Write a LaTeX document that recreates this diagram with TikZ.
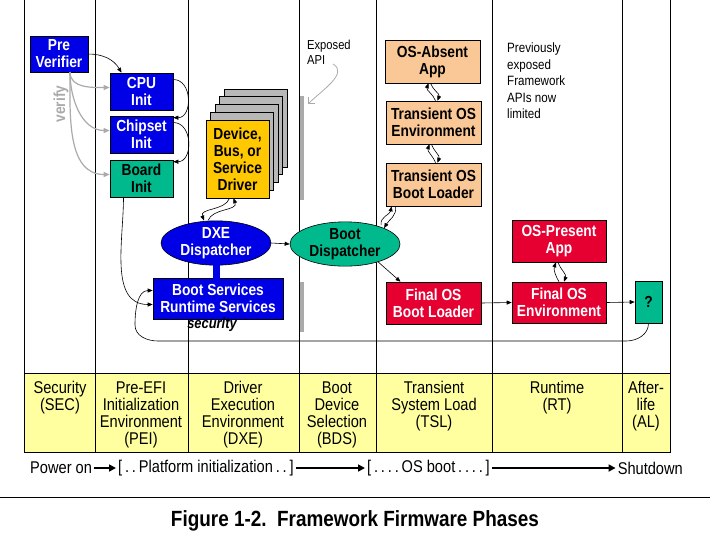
\documentclass[tikz,border=0pt]{standalone}
\usepackage{fontspec}
\setmainfont{Liberation Sans}[FakeStretch=0.86]
\usetikzlibrary{shapes.geometric,arrows.meta}
\definecolor{eblue}{RGB}{0,0,230}
\definecolor{egreen}{RGB}{0,185,140}
\definecolor{eorange}{RGB}{255,200,0}
\definecolor{epeach}{RGB}{250,200,150}
\definecolor{ered}{RGB}{230,0,50}
\definecolor{eyellow}{RGB}{255,255,160}
\definecolor{egray}{RGB}{170,170,170}
\begin{document}
\begin{tikzpicture}[x=1pt,y=-1pt,
 box/.style={draw=black,line width=0.6pt,inner sep=0pt,align=center,font=\bfseries\fontsize{16}{17}\selectfont,text=white},
 bluebox/.style={box,fill=eblue},
 greenbox/.style={box,fill=egreen,text=black},
 peachbox/.style={box,fill=epeach,text=black},
 redbox/.style={box,fill=ered},
 arr/.style={-{Triangle[length=5pt,width=4pt]},line width=0.6pt},
 garr/.style={-{Triangle[length=6pt,width=5pt]},line width=1.2pt,egray},
 phase/.style={align=center,font=\fontsize{17}{17}\selectfont,anchor=north},
 tl/.style={font=\fontsize{17}{17}\selectfont,inner sep=0pt}]
\useasboundingbox (0,0) rectangle (710,542);
% lane lines
\foreach \x in {24,95,188,299,376,492,622,670} \draw[line width=0.6pt] (\x,0) -- (\x,373);
% yellow band
\fill[eyellow] (24,373) rectangle (670,452);
\draw[line width=0.6pt] (24,373) rectangle (670,452);
\foreach \x in {95,188,299,376,492,622} \draw[line width=0.6pt] (\x,373) -- (\x,452);
\node[phase] (p1) at (60,378) {Security\\(SEC)};
\node[phase] (p2) at (141,378) {Pre-EFI\\Initialization\\Environment\\(PEI)};
\node[phase] (p3) at (243,378) {Driver\\Execution\\Environment\\(DXE)};
\node[phase] (p4) at (337,378) {Boot\\Device\\Selection\\(BDS)};
\node[phase] (p5) at (434,378) {Transient\\System Load\\(TSL)};
\node[phase] (p6) at (557,378) {Runtime\\(RT)};
\node[phase] (p7) at (646,378) {After-\\life\\(AL)};
% timeline
\node[tl,anchor=west] (pw) at (30,468) {Power on};
\node[tl,anchor=west] (pi) at (118,468) {[\,.\,.\,Platform initialization\,.\,.\,]};
\node[tl,anchor=west] (ob) at (367,468) {[\,.\,.\,.\,.\,OS boot\,.\,.\,.\,.\,]};
\node[tl,anchor=east] (sd) at (683,468) {Shutdown};
\draw[-{Triangle[length=7pt,width=7pt]},line width=1.6pt] ([xshift=2pt]pw.east) -- ([xshift=-2pt]pi.west);
\draw[-{Triangle[length=7pt,width=7pt]},line width=1.6pt] ([xshift=2pt]pi.east) -- ([xshift=-2pt]ob.west);
\draw[-{Triangle[length=7pt,width=7pt]},line width=1.6pt] ([xshift=2pt]ob.east) -- ([xshift=-2pt]sd.west);
\draw[line width=0.8pt] (0,497) -- (710,497);
\node[font=\bfseries\fontsize{22}{23}\selectfont] (cap) at (355,521) {Figure 1-2.\ \ Framework Firmware Phases};
% PEI boxes
\node[bluebox,minimum width=58pt,minimum height=36pt] (pre) at (59,54) {Pre\\Verifier};
\node[bluebox,minimum width=63pt,minimum height=37pt] (cpu) at (141.5,91.5) {CPU\\Init};
\node[bluebox,minimum width=63pt,minimum height=37pt] (chip) at (141.5,134.5) {Chipset\\Init};
\node[greenbox,minimum width=63pt,minimum height=37pt] (board) at (141.5,178.5) {Board\\Init};
\draw[arr] (pre.east) to[out=0,in=120] ([xshift=-20pt]cpu.north);
\coordinate (vf) at (70,72);
\draw[garr] (vf) to[out=-90,in=180] ([yshift=4pt]cpu.west);
\draw[garr] (vf) to[out=-90,in=180] ([yshift=4pt]chip.west);
\draw[garr] (vf) to[out=-90,in=180] ([yshift=4pt]board.west);
\node[rotate=90,text=egray,font=\bfseries\fontsize{16}{17}\selectfont] (vt) at (61,104) {verify};
\draw[arr] ([yshift=12pt]cpu.east) to[out=0,in=0,looseness=1.3] ([yshift=-2pt]chip.north east);
\draw[arr] ([yshift=12pt]chip.east) to[out=0,in=0,looseness=1.3] ([yshift=-2pt]board.north east);
% driver stack
\foreach \i in {4,3,2,1} \draw[fill=egray!80!black!60,line width=0.6pt] (206+4.5*\i,120-7.75*\i) rectangle ++(63,78);
\node[box,fill=eorange,text=black,minimum width=63pt,minimum height=78pt] (drv) at (237.5,159) {Device,\\Bus, or\\Service\\Driver};
\node[ellipse,fill=eblue,draw=black,line width=0.6pt,minimum width=110pt,minimum height=40pt,inner sep=0pt,align=center,text=white,font=\bfseries\fontsize{16}{17}\selectfont] (dxe) at (216,243) {DXE\\Dispatcher};
\node[bluebox,minimum width=130pt,minimum height=41pt] (bs) at (218,298.5) {Boot Services\\Runtime Services};
\fill[eblue] (213,262) rectangle (220,279);
\node[font=\bfseries\itshape\fontsize{15}{16}\selectfont] (sec) at (212,325) {security};
\draw[arr] ([xshift=-8pt]drv.south) to[out=-110,in=110] ([xshift=-12pt]dxe.north);
\draw[arr] ([xshift=-8pt]dxe.north) to[out=70,in=-70] ([xshift=-4pt]drv.south);
\draw[arr] ([xshift=-18pt]board.south) to[out=-90,in=180] ([yshift=-6pt]bs.west);
% gray bars
\fill[egray] (300,96) rectangle (304,200);
\fill[egray] (300,282) rectangle (304,332);
\node[anchor=north west,inner sep=0pt,align=left,font=\fontsize{13}{15}\selectfont] (api) at (307,40) {Exposed\\API};
\draw[-{Straight Barb[length=5pt]},egray,line width=0.8pt] (333,64) to[out=-30,in=45] (308,104);
% BDS
\node[ellipse,fill=egreen,draw=black,line width=0.6pt,minimum width=110pt,minimum height=40pt,inner sep=0pt,align=center,font=\bfseries\fontsize{16}{17}\selectfont] (bds) at (345,244) {Boot\\Dispatcher};
\draw[arr] (dxe.east) -- (bds.west);
% TSL
\node[peachbox,minimum width=95pt,minimum height=43pt] (osa) at (432.5,61.5) {OS-Absent\\App};
\node[peachbox,minimum width=95pt,minimum height=43pt] (toe) at (433.5,122.5) {Transient OS\\Environment};
\node[peachbox,minimum width=95pt,minimum height=43pt] (tbl) at (433.5,184.5) {Transient OS\\Boot Loader};
\node[redbox,minimum width=95pt,minimum height=42pt] (fbl) at (433.5,303) {Final OS\\Boot Loader};
\draw[arr] ([xshift=2pt]toe.north) to[out=110,in=-110] ([xshift=-4pt]osa.south);
\draw[arr] ([xshift=-2pt]osa.south) to[out=-70,in=70] ([xshift=4pt]toe.north);
\draw[arr] ([xshift=2pt]tbl.north) to[out=110,in=-110] ([xshift=-4pt]toe.south);
\draw[arr] ([xshift=-2pt]toe.south) to[out=-70,in=70] ([xshift=4pt]tbl.north);
\draw[arr] ([shift={(-3pt,3pt)}]bds.north east) to[out=100,in=-100] ([xshift=-42pt]tbl.south);
\draw[arr] ([xshift=-38pt]tbl.south) to[out=-80,in=60] (bds.north east);
\draw[arr] ([shift={(-6pt,-2pt)}]bds.south east) -- ([xshift=-33pt]fbl.north);
% RT
\node[anchor=north west,inner sep=0pt,align=left,font=\fontsize{13.5}{16.5}\selectfont] (prev) at (507,43) {Previously\\exposed\\Framework\\APIs now\\limited};
\node[redbox,minimum width=94pt,minimum height=42pt] (osp) at (559,241) {OS-Present\\App};
\node[redbox,minimum width=94pt,minimum height=41pt] (foe) at (559,302.5) {Final OS\\Environment};
\draw[arr] (foe.north) to[out=120,in=-110] ([xshift=-3pt]osp.south);
\draw[arr] ([xshift=-1pt]osp.south) to[out=-70,in=70] ([xshift=5pt]foe.north);
\draw[arr] (fbl.east) -- (foe.west);
% AL
\node[greenbox,minimum width=27pt,minimum height=42pt] (q) at (648.5,302) {?};
\draw[arr] (foe.east) -- (q.west);
% loop back
\draw[arr] (q.south) to[out=-90,in=0] (626,341) -- (158,341) to[out=180,in=-90] (135,325) to[out=90,in=180] ([yshift=8pt]bs.west);
\end{tikzpicture}
\end{document}
